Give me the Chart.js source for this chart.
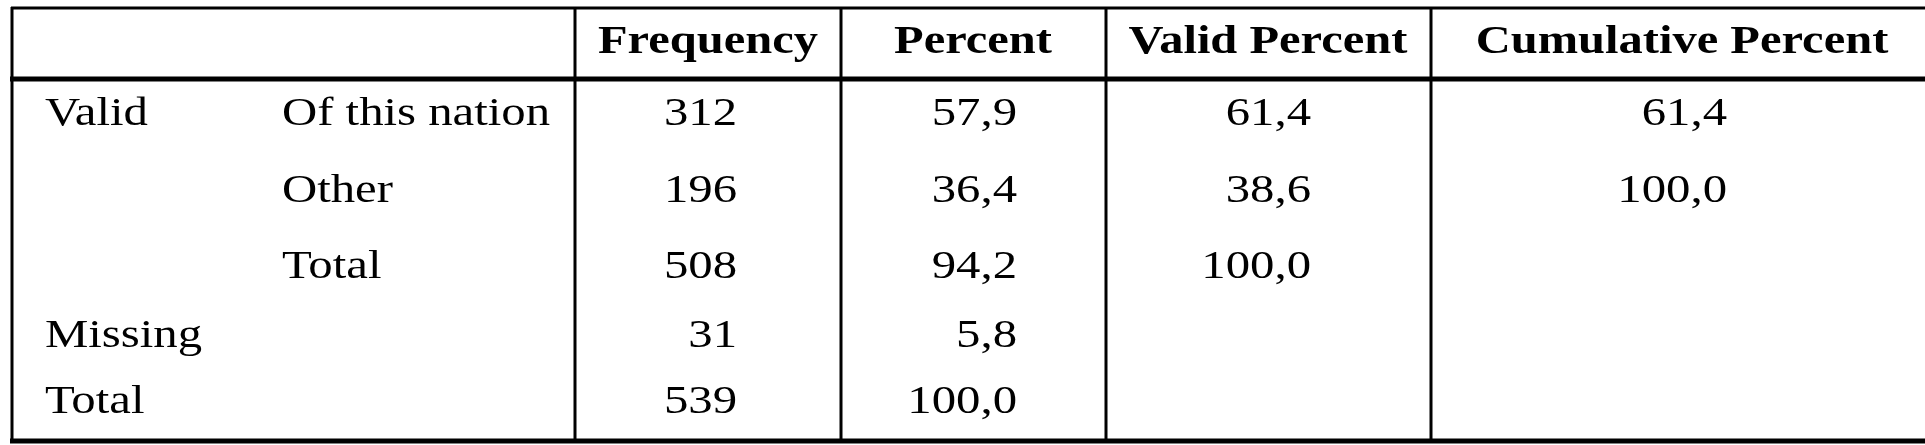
<!DOCTYPE html>
<html><head><meta charset="utf-8">
<script src="https://cdn.jsdelivr.net/npm/chart.js@4"></script>
<style>html,body{margin:0;padding:0;background:#fff}#w{width:1925px;height:445px}</style>
</head><body><div id="w"><canvas id="c"></canvas></div>
<script>
const headers = ["", "", "Frequency", "Percent", "Valid Percent", "Cumulative Percent"];
const groupLabels = ["Valid", "", "", "Missing", "Total"];
const rowLabels = ["Of this nation", "Other", "Total", "", ""];
const frequency = ["312", "196", "508", "31", "539"];
const percent = ["57,9", "36,4", "94,2", "5,8", "100,0"];
const validPercent = ["61,4", "38,6", "100,0", "", ""];
const cumulativePercent = ["61,4", "100,0", "", "", ""];

// layout (style only)
const colLines = [575, 841, 1106, 1431];
const headerCenters = [708, 973, 1268, 1682];
const numRight = [737, 1017, 1311, 1727];
const labelLeft = [45, 282];
const rowBase = [125, 202, 278, 347, 413];

const tablePlugin = {
  id: 'table',
  afterDraw(chart) {
    const ctx = chart.ctx;
    ctx.save();
    ctx.fillStyle = '#fff'; ctx.fillRect(0,0,chart.width,chart.height);
    ctx.strokeStyle = '#000';
    ctx.lineWidth = 3;
    ctx.beginPath(); ctx.moveTo(11,8); ctx.lineTo(1925,8); ctx.stroke();
    ctx.beginPath(); ctx.moveTo(12,7); ctx.lineTo(12,442); ctx.stroke();
    colLines.forEach(x => { ctx.beginPath(); ctx.moveTo(x,7); ctx.lineTo(x,442); ctx.stroke(); });
    ctx.lineWidth = 5;
    ctx.beginPath(); ctx.moveTo(10,79); ctx.lineTo(1925,79); ctx.stroke();
    ctx.beginPath(); ctx.moveTo(10,441); ctx.lineTo(1925,441); ctx.stroke();

    ctx.fillStyle = '#000';
    ctx.textBaseline = 'alphabetic';
    ctx.font = 'bold 40px "Liberation Serif"';
    const hs = 220 / ctx.measureText('Frequency').width;
    headers.slice(2).forEach((h,i) => {
      const w = ctx.measureText(h).width * hs;
      ctx.save(); ctx.translate(headerCenters[i] - w/2, 53); ctx.scale(hs,1); ctx.fillText(h,0,0); ctx.restore();
    });
    ctx.font = '40px "Liberation Serif"';
    const s = 268 / ctx.measureText('Of this nation').width;
    const put = (t, x, y, right) => {
      if (!t) return;
      const w = ctx.measureText(t).width * s;
      ctx.save(); ctx.translate(right ? x - w : x, y); ctx.scale(s,1); ctx.fillText(t,0,0); ctx.restore();
    };
    for (let r = 0; r < rowBase.length; r++) {
      const y = rowBase[r];
      put(groupLabels[r], labelLeft[0], y, false);
      put(rowLabels[r], labelLeft[1], y, false);
      [frequency, percent, validPercent, cumulativePercent].forEach((arr,i) => put(arr[r], numRight[i], y, true));
    }
    ctx.restore();
  }
};

new Chart(document.getElementById('c'), {
  type: 'bar',
  data: { labels: groupLabels.map((g,i)=>g+' '+rowLabels[i]), datasets: [{ data: frequency.map(Number), backgroundColor: 'rgba(0,0,0,0)' }] },
  options: {
    responsive: true, maintainAspectRatio: false, animation: false,
    plugins: { legend: { display: false }, tooltip: { enabled: false } },
    scales: { x: { display: false }, y: { display: false } }
  },
  plugins: [tablePlugin]
});
</script></body></html>
